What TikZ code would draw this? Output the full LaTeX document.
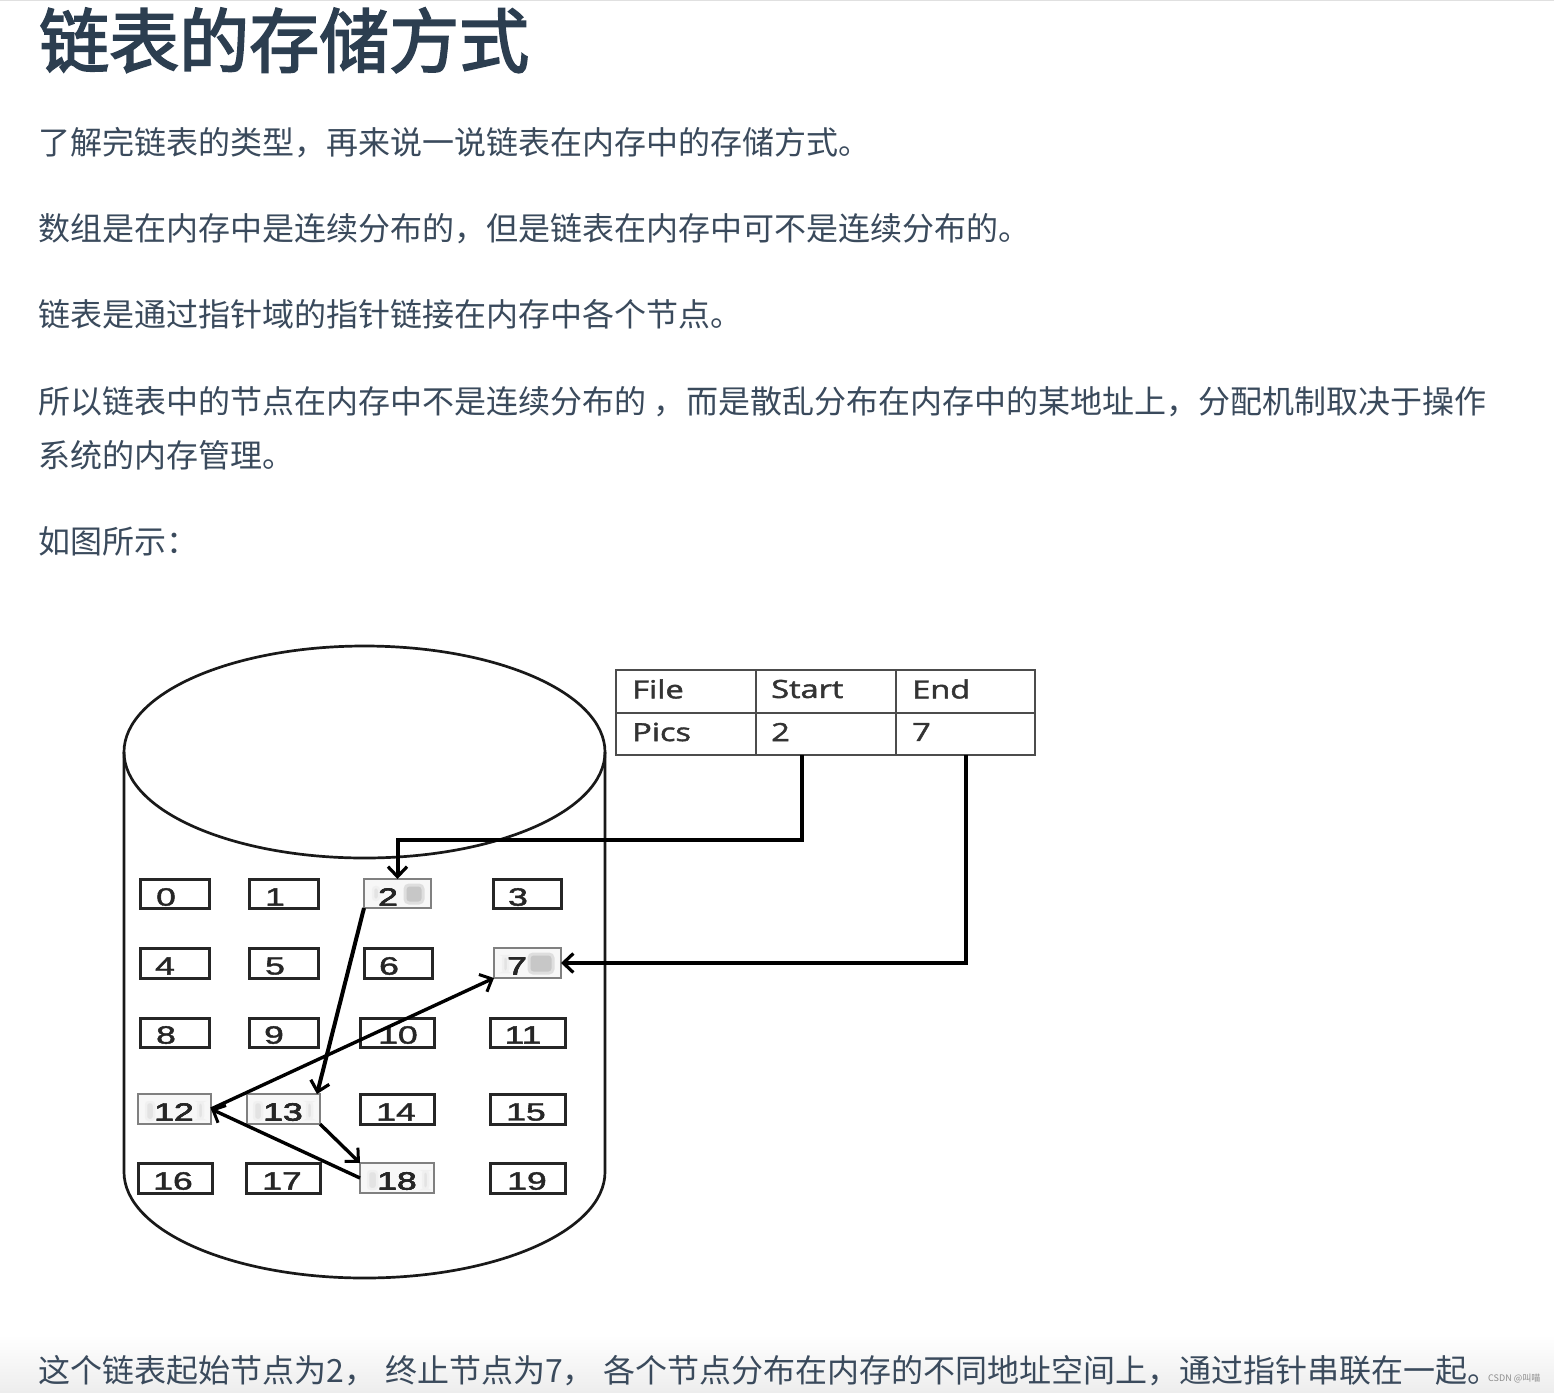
\documentclass[tikz,border=0pt]{standalone}
\usepackage{fontspec}
\setmainfont{Liberation Sans}
\newfontfamily\cjk{Noto Sans CJK SC}
\newfontfamily\cjkhead[FakeBold=2.6]{Noto Sans CJK SC}
\newfontfamily\tbl[FakeBold=1.6]{Open Sans}
\newfontfamily\dig[FakeBold=1.6]{Liberation Sans}
\usetikzlibrary{arrows.meta,calc}
\definecolor{titlec}{HTML}{2C3E50}
\definecolor{bodyc}{HTML}{3A4A5C}
\tikzset{
  x=1pt,y=-1pt,
  body/.style={anchor=base west,inner sep=0pt,text=bodyc,font=\cjk\fontsize{32}{32}\selectfont},
  heading/.style={anchor=base west,inner sep=0pt,text=titlec,font=\cjkhead\fontsize{70}{70}\selectfont},
  cellbox/.style={draw=black!85,line width=3pt,inner sep=0pt,outer sep=0pt,fill=white},
  litbox/.style={draw=black!50,line width=2.2pt,inner sep=0pt,outer sep=0pt,fill=black!3},
  digit/.style={inner sep=0pt,text=black!85,xscale=1.42,font=\dig\fontsize{25}{25}\selectfont},
  tabcell/.style={draw=black!70,line width=2pt,inner sep=0pt,outer sep=0pt,anchor=north west},
  tabtext/.style={inner sep=0pt,anchor=west,text=black!80,xscale=1.3,font=\tbl\fontsize{25}{25}\selectfont},
  blotch/.style={fill=black!22,rounded corners=4pt,draw=black!13,line width=3pt},
  blotchl/.style={fill=black!11,rounded corners=3pt,draw=black!6,line width=2.5pt},
  link/.style={draw=black,line width=4pt,-{Straight Barb[length=10pt,width=19pt,line width=3.2pt]}},
  linkthin/.style={draw=black,line width=3.4pt,-{Straight Barb[length=10pt,width=19pt,line width=3pt]}},
  vessel/.style={draw=black!90,line width=2.7pt},
}
% name, x1, y1, x2, y2, label x, label y, label, style
\newcommand{\memcell}[9]{%
  \node[#9,minimum width=#4-#2-2,minimum height=#5-#3-2] (n#1) at ({(#2+#4)/2},{(#3+#5)/2}) {};
  \coordinate (t#1) at (#6,#7);
  \ifx#9litbox\else\node[digit] (d#1) at (t#1) {#8};\fi
}
\begin{document}
\begin{tikzpicture}
\useasboundingbox (0,0) rectangle (1554,1392);
\fill[white] (0,0) rectangle (1554,1392);
\shade[top color=white,bottom color=black!7] (0,1335) rectangle (1554,1392);
\draw[black!12,line width=1pt] (0,0.5) -- (1554,0.5);

\node[heading] (title) at (39,67) {链表的存储方式};
\node[body] (p1) at (38.5,154) {了解完链表的类型，再来说一说链表在内存中的存储方式。};
\node[body] (p2) at (38.5,240) {数组是在内存中是连续分布的，但是链表在内存中可不是连续分布的。};
\node[body] (p3) at (38.5,326) {链表是通过指针域的指针链接在内存中各个节点。};
\node[body] (p4) at (38.5,413) {所以链表中的节点在内存中不是连续分布的 ，\hspace{1pt}而是散乱分布在内存中的某地址上，分配机制取决于操作};
\node[body] (p5) at (38.5,467) {系统的内存管理。};
\node[body] (p6) at (38.5,553) {如图所示：};
\node[body] (p7) at (38.5,1382) {这个链表起始节点为2，\hspace{1.5pt} 终止节点为7，\hspace{1.5pt} 各个节点分布在内存的不同地址空间上，通过指针串联在一起。\hspace{-8pt}};
\node[anchor=base west,inner sep=0pt,text=black!45,font=\cjk\fontsize{9}{9}\selectfont] (mark) at (1488,1381) {CSDN @叫喵};

% cylinder
\draw[vessel] (124,752) -- (124,1172) arc[start angle=180,end angle=360,x radius=240.5,y radius=-106] -- (605,752);
\draw[vessel] (364.5,752) ellipse[x radius=240.5,y radius=106];

% memory cells
\memcell{0}{139}{878}{210}{909}{166}{897}{0}{cellbox}
\memcell{1}{248}{878}{319}{909}{275}{897}{1}{cellbox}
\memcell{2}{363}{878}{432}{909}{388}{897}{2}{litbox}
\memcell{3}{492}{878}{562}{909}{518}{897}{3}{cellbox}
\memcell{4}{139}{947}{210}{979}{165}{966}{4}{cellbox}
\memcell{5}{248}{947}{319}{979}{275}{966}{5}{cellbox}
\memcell{6}{363}{947}{433}{979}{389}{966}{6}{cellbox}
\memcell{7}{493}{947}{562}{979}{517}{966}{7}{litbox}
\memcell{8}{139}{1017}{210}{1048}{166}{1035}{8}{cellbox}
\memcell{9}{248}{1017}{319}{1048}{274}{1035}{9}{cellbox}
\memcell{10}{359}{1017}{435}{1048}{398}{1035}{10}{cellbox}
\memcell{11}{489}{1017}{566}{1048}{523}{1035}{11}{cellbox}
\memcell{12}{137}{1093}{212}{1125}{174}{1112}{12}{litbox}
\memcell{13}{246}{1093}{321}{1125}{283}{1112}{13}{litbox}
\memcell{14}{359}{1093}{435}{1125}{396}{1112}{14}{cellbox}
\memcell{15}{489}{1093}{566}{1125}{526}{1112}{15}{cellbox}
\memcell{16}{137}{1162}{213}{1194}{173}{1181}{16}{cellbox}
\memcell{17}{245}{1162}{321}{1194}{282}{1181}{17}{cellbox}
\memcell{18}{359}{1162}{435}{1194}{397}{1181}{18}{litbox}
\memcell{19}{489}{1162}{566}{1194}{527}{1181}{19}{cellbox}

% smudges behind the highlighted numbers
\path[blotch] (405,885) rectangle (423,903);
\path[blotchl] (373,887) rectangle (379,900);
\path[blotch] (529,954) rectangle (553,973);
\path[blotchl] (503,956) rectangle (508,972);
\path[blotchl] (146,1102) rectangle (154,1120);
\path[blotchl] (198,1102) rectangle (203,1119);
\path[blotchl] (254,1102) rectangle (262,1120);
\path[blotchl] (307,1102) rectangle (312,1119);
\path[blotchl] (368,1171) rectangle (377,1189);
\path[blotchl] (423,1171) rectangle (428,1189);
\node[digit] (d2) at (t2) {2};
\node[digit] (d7) at (t7) {7};
\node[digit] (d12) at (t12) {12};
\node[digit] (d13) at (t13) {13};
\node[digit] (d18) at (t18) {18};

% file table
\node[tabcell,minimum width=140,minimum height=43] (cFile) at (616,670) {};
\node[tabcell,minimum width=140,minimum height=43] (cStart) at (756,670) {};
\node[tabcell,minimum width=139,minimum height=43] (cEnd) at (896,670) {};
\node[tabcell,minimum width=140,minimum height=42] (cPics) at (616,713) {};
\node[tabcell,minimum width=140,minimum height=42] (cTwo) at (756,713) {};
\node[tabcell,minimum width=139,minimum height=42] (cSeven) at (896,713) {};
\node[tabtext] (lFile) at (632,689) {File};
\node[tabtext] (lStart) at (771,689) {Start};
\node[tabtext] (lEnd) at (912,689) {End};
\node[tabtext] (lPics) at (632,732) {Pics};
\node[tabtext] (lTwo) at (771,732) {2};
\node[tabtext] (lSeven) at (912,732) {7};

\coordinate (startOut) at (802,755);
\coordinate (endOut) at (966,755);
\coordinate (startBend) at (802,840);

% connectors
\draw[link] (startOut) -- (startBend) -| (n2.north);
\draw[link] (endOut) |- (n7.east);
\draw[link] (n2.south west) -- ($(n13.north east)+(-3,0)$);
\draw[linkthin] (n12.east) -- (n7.south west);
\draw[linkthin] (n13.south east) -- (n18.north west);
\draw[linkthin] (n18.west) -- (n12.east);
\end{tikzpicture}
\end{document}
